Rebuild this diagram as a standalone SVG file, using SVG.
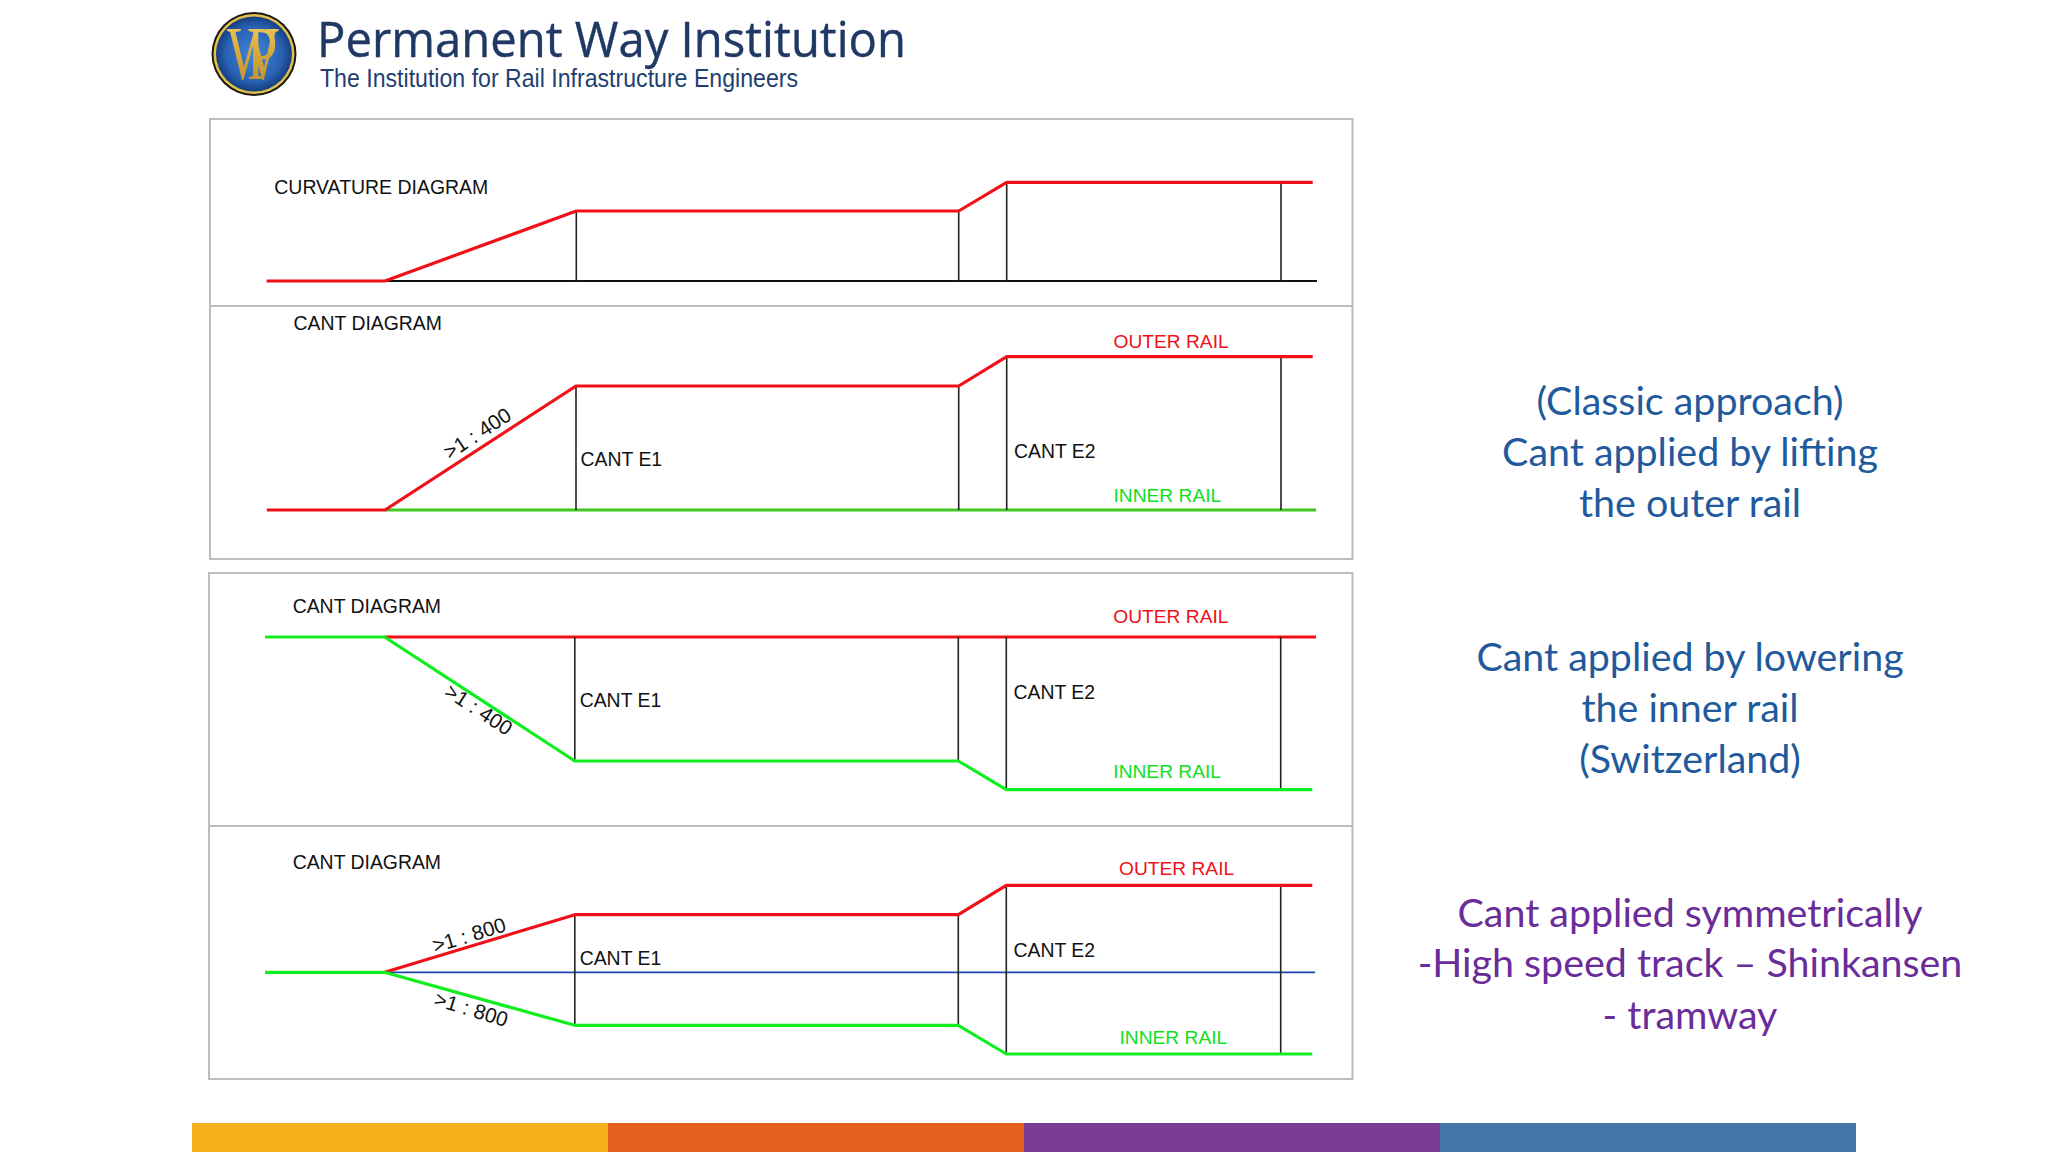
<svg xmlns="http://www.w3.org/2000/svg" width="2048" height="1152" viewBox="0 0 2048 1152">
<defs>
<radialGradient id="disc" cx="50%" cy="50%" r="52%"><stop offset="0" stop-color="#3f86d8"/><stop offset="0.7" stop-color="#2a62b4"/><stop offset="1" stop-color="#123a78"/></radialGradient>
<linearGradient id="gold" x1="0" y1="0" x2="0" y2="1"><stop offset="0" stop-color="#f3d66e"/><stop offset="0.5" stop-color="#d9a83a"/><stop offset="1" stop-color="#b98a24"/></linearGradient>
</defs>
<style>
.pnl{fill:none;stroke:#bdbdbd;stroke-width:2}
.r{fill:none;stroke:#f01018;stroke-width:3.2;stroke-linejoin:round}
.g{fill:none;stroke:#10ee20;stroke-width:3.2;stroke-linejoin:round}
.gd{fill:none;stroke:#40c820;stroke-width:3.2}
.k{fill:none;stroke:#222;stroke-width:1.6}
.kb{fill:none;stroke:#111;stroke-width:2.2}
.b{fill:none;stroke:#1a48a8;stroke-width:1.8}
text{font-family:"Liberation Sans",Arial,sans-serif}
.t{font-size:19.4px;fill:#111}
.rt{font-size:20.8px;fill:#111}
.lr{font-size:19.2px;fill:#f01018}
.lg{font-size:19.2px;fill:#10e020}
.s{font-family:Lato,"Open Sans",sans-serif;font-size:39.4px;text-anchor:middle}
.bl{fill:#1f5a9c}
.pu{fill:#6a2c98}
</style>
<rect width="2048" height="1152" fill="#fff"/>
<g id="logo">
<ellipse cx="254" cy="54" rx="42.5" ry="42" fill="#1a1a10"/>
<ellipse cx="254" cy="54" rx="40.5" ry="40" fill="#e2c04e"/>
<ellipse cx="254" cy="54" rx="38" ry="37.5" fill="url(#disc)"/>
<text transform="translate(227 79) scale(.72 1)" font-size="76" letter-spacing="-44" fill="url(#gold)" style="font-family:'Liberation Serif',serif">WP</text>
</g>
<g id="header">
<text x="317" y="56.7" font-size="49" fill="#1f3864" stroke="#1f3864" stroke-width=".4" style="font-family:'Open Sans',sans-serif" textLength="589" lengthAdjust="spacingAndGlyphs">Permanent Way Institution</text>
<text x="320" y="86.7" font-size="25.5" fill="#1f3f70" textLength="478" lengthAdjust="spacingAndGlyphs">The Institution for Rail Infrastructure Engineers</text>
</g>
<g id="panels">
<rect class="pnl" x="210" y="119" width="1142.5" height="440"/>
<line class="pnl" x1="210" y1="306" x2="1352.5" y2="306"/>
<rect class="pnl" x="209" y="573" width="1143.5" height="506"/>
<line class="pnl" x1="209" y1="826" x2="1352.5" y2="826"/>
</g>
<g id="connectors">
<!-- curvature -->
<path class="kb" d="M385 281H1317"/>
<path class="k" d="M576.3 211V281M958.7 211V281M1006.7 182V281M1281 182V281"/>
<path class="r" d="M266.6 281H385L576.3 211H958.7L1006.7 182.3H1312.7"/>
<!-- cant 1 -->
<path class="gd" d="M385 510H1316"/>
<path class="k" d="M576 386V510M958.7 386V510M1006.7 357V510M1281 357V510"/>
<path class="r" d="M266.8 510H385L576 386H958.7L1006.7 356.7H1312.7"/>
<!-- cant 2 -->
<path class="r" d="M384.6 637H1316"/>
<path class="k" d="M574.8 637V761M958.3 637V761M1006.3 637V789.7M1280.7 637V789.7"/>
<path class="g" d="M265 637H384.6L574.8 761H958.3L1006.3 789.7H1312.3"/>
<!-- cant 3 -->
<path class="b" d="M384.6 972.3H1315"/>
<path class="k" d="M574.8 914.7V1025.3M958.3 914.7V1025.3M1006.3 885.3V1054M1280.7 885.3V1054"/>
<path class="r" d="M384.6 972.3L574.8 914.7H958.3L1006.3 885.3H1312.3"/>
<path class="g" d="M265 972.3H384.6L574.8 1025.3H958.3L1006.3 1054H1312.3"/>
</g>
<g id="panel-labels">
<text class="t" x="274.3" y="194" textLength="214" lengthAdjust="spacingAndGlyphs">CURVATURE DIAGRAM</text>
<text class="t" x="293.6" y="330">CANT DIAGRAM</text>
<text class="t" x="580.6" y="465.7">CANT E1</text>
<text class="t" x="1014" y="457.7">CANT E2</text>
<text class="lr" x="1113.5" y="348">OUTER RAIL</text>
<text class="lg" x="1113.5" y="502.3">INNER RAIL</text>
<text class="rt" transform="translate(449.5 460) rotate(-33)" x="0" y="0">&gt;1 : 400</text>
<text class="t" x="292.7" y="612.7">CANT DIAGRAM</text>
<text class="t" x="579.7" y="707">CANT E1</text>
<text class="t" x="1013.5" y="699">CANT E2</text>
<text class="lr" x="1113.3" y="622.7">OUTER RAIL</text>
<text class="lg" x="1113.3" y="777.7">INNER RAIL</text>
<text class="rt" transform="translate(443 695) rotate(33)" x="0" y="0">&gt;1 : 400</text>
<text class="t" x="292.7" y="868.7">CANT DIAGRAM</text>
<text class="t" x="579.7" y="965">CANT E1</text>
<text class="t" x="1013.5" y="957">CANT E2</text>
<text class="lr" x="1119" y="875.3">OUTER RAIL</text>
<text class="lg" x="1119.5" y="1044">INNER RAIL</text>
<text class="rt" transform="translate(435 953) rotate(-17)" x="0" y="0">&gt;1 : 800</text>
<text class="rt" transform="translate(433 1005) rotate(17)" x="0" y="0">&gt;1 : 800</text>
</g>
<g id="notes">
<text class="s bl" x="1690" y="414.5">(Classic approach)</text>
<text class="s bl" x="1690" y="465.5">Cant applied by lifting</text>
<text class="s bl" x="1690" y="516.5">the outer rail</text>
<text class="s bl" x="1690" y="671">Cant applied by lowering</text>
<text class="s bl" x="1690" y="722">the inner rail</text>
<text class="s bl" x="1690" y="773">(Switzerland)</text>
<text class="s pu" x="1690" y="926.5">Cant applied symmetrically</text>
<text class="s pu" x="1690" y="977">-High speed track – Shinkansen</text>
<text class="s pu" x="1690" y="1028.5">- tramway</text>
</g>
<g id="footer-bar">
<rect x="192" y="1123" width="416" height="29" fill="#f7b11c"/>
<rect x="608" y="1123" width="416" height="29" fill="#e5601d"/>
<rect x="1024" y="1123" width="416" height="29" fill="#783c96"/>
<rect x="1440" y="1123" width="416" height="29" fill="#4676a8"/>
</g>
</svg>
